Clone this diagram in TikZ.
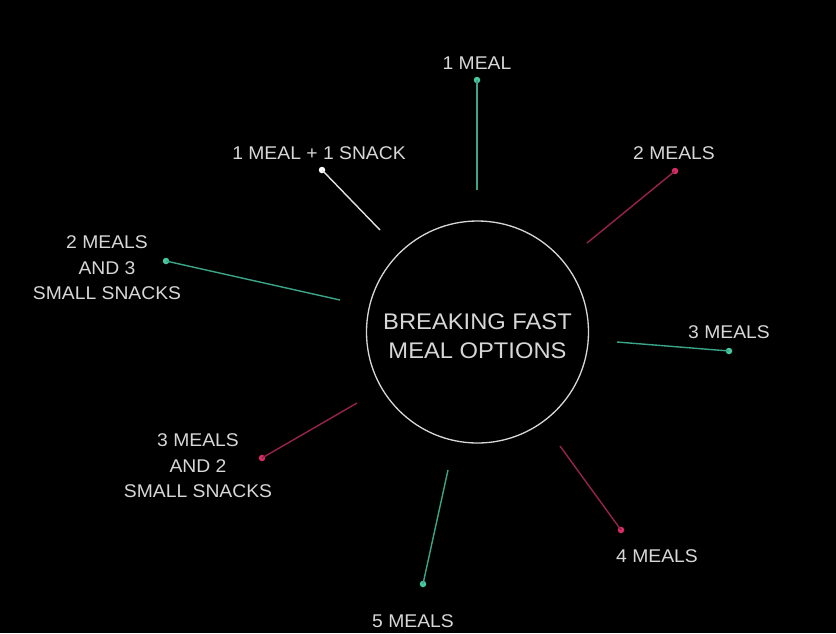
\documentclass[tikz,border=0pt]{standalone}
\usepackage{fontspec}
\setmainfont{Liberation Sans}[FakeStretch=1.05]
\definecolor{bg}{RGB}{0,0,0}
\definecolor{txt}{RGB}{215,215,215}
\definecolor{tealg}{RGB}{58,165,135}
\definecolor{tealdot}{RGB}{70,200,160}
\definecolor{wine}{RGB}{150,35,75}
\definecolor{winedot}{RGB}{215,45,100}
\definecolor{wline}{RGB}{225,225,225}
\tikzset{
  lbl/.style={text=txt, font=\fontsize{18.4}{25.5}\selectfont, align=center, inner sep=0pt},
  hub/.style={circle, draw=txt, line width=1.3pt, minimum size=222pt, inner sep=0pt, text=txt, align=center, font=\fontsize{22.6}{29.5}\selectfont},
  gline/.style={draw=tealg, line width=1.4pt},
  rline/.style={draw=wine, line width=1.4pt},
  wl/.style={draw=wline, line width=1.4pt},
  gdot/.style={circle, fill=tealdot, minimum size=6.5pt, inner sep=0pt},
  rdot/.style={circle, fill=winedot, minimum size=6.5pt, inner sep=0pt},
  wdot/.style={circle, fill=white, minimum size=6.5pt, inner sep=0pt}
}
\begin{document}
\begin{tikzpicture}[x=1pt,y=-1pt]
\fill[bg] (0,0) rectangle (836,633);
\useasboundingbox (0,0) rectangle (836,633);
\node[hub] (hub) at (477.5,332) {};
\node[text=txt, align=center, inner sep=0pt, font=\fontsize{22.6}{29.5}\selectfont] (title) at (477.5,336) {BREAKING FAST\\MEAL OPTIONS};
% start points of connectors near the hub
\coordinate (s1) at (477,190);
\coordinate (s2) at (587,243);
\coordinate (s3) at (617,342);
\coordinate (s4) at (560,446);
\coordinate (s5) at (448,470);
\coordinate (s6) at (357,403);
\coordinate (s7) at (340,300);
\coordinate (s8) at (380,230);
% dots
\node[gdot] (d1) at (477,80) {};
\node[rdot] (d2) at (675,171) {};
\node[gdot] (d3) at (729,351) {};
\node[rdot] (d4) at (621,530) {};
\node[gdot] (d5) at (423,584) {};
\node[rdot] (d6) at (262,458) {};
\node[gdot] (d7) at (166,261) {};
\node[wdot] (d8) at (322,170) {};
% connectors
\draw[gline] (s1) -- (d1.center);
\draw[rline] (s2) -- (d2.center);
\draw[gline] (s3) -- (d3.center);
\draw[rline] (s4) -- (d4.center);
\draw[gline] (s5) -- (d5.center);
\draw[rline] (s6) -- (d6.center);
\draw[gline] (s7) -- (d7.center);
\draw[wl] (s8) -- (d8.center);
% labels
\node[lbl] (l1) at (477,63) {1 MEAL};
\node[lbl] (l2) at (674,153) {2 MEALS};
\node[lbl] (l3) at (729,332) {3 MEALS};
\node[lbl] (l4) at (657,556) {4 MEALS};
\node[lbl] (l5) at (413,621) {5 MEALS};
\node[lbl] (l6) at (198,466) {3 MEALS\\AND 2\\SMALL SNACKS};
\node[lbl] (l7) at (107,268) {2 MEALS\\AND 3\\SMALL SNACKS};
\node[lbl] (l8) at (319,153) {1 MEAL + 1 SNACK};
\end{tikzpicture}
\end{document}
